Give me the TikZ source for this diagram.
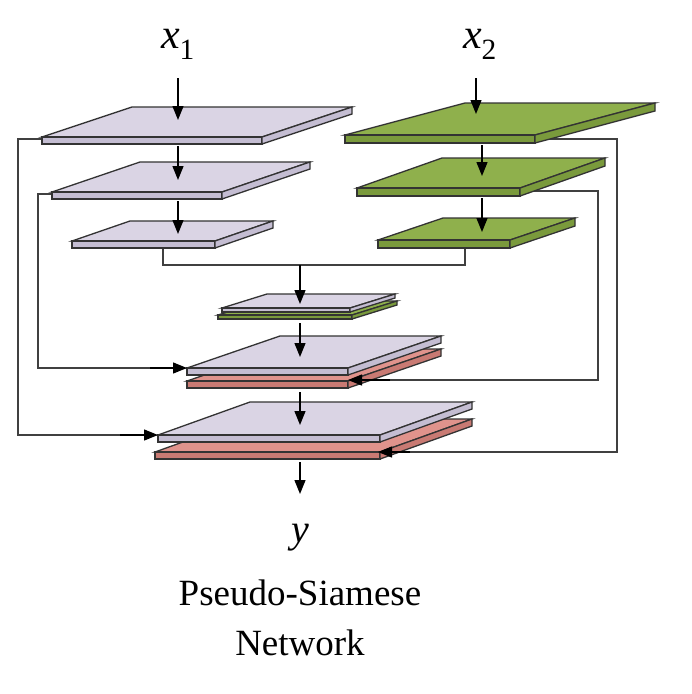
\documentclass[tikz,border=0pt]{standalone}
\usepackage{fontspec}
\setmainfont{Liberation Serif}
\usetikzlibrary{arrows.meta}
\definecolor{pu}{HTML}{DAD4E4}
\definecolor{puS}{HTML}{C4BDD2}
\definecolor{gr}{HTML}{8FB04C}
\definecolor{grS}{HTML}{7A9A3C}
\definecolor{rd}{HTML}{E0938C}
\definecolor{rdS}{HTML}{C97A73}
% \myplate{x0}{y0}{w}{d}{h}{t}{fill}{side}
\newcommand\myplate[8]{%
  \fill[#7,draw=black!80,line width=1.3pt] (#1,#2) -- ++(#3,0) -- ++(#4,-#5) -- ++(-#3,0) -- cycle;
  \fill[#8,draw=black!80,line width=1.3pt] (#1,#2) -- ++(#3,0) -- ++(0,#6) -- ++(-#3,0) -- cycle;
  \fill[#8,draw=black!80,line width=1.3pt] (#1+#3,#2) -- ++(#4,-#5) -- ++(0,#6) -- ++(-#4,#5) -- cycle;
}
\tikzset{ar/.style={-{Triangle[length=14pt,width=11pt]},line width=1.3pt},
  ln/.style={line width=1.3pt,black!75}}
\begin{document}
\begin{tikzpicture}[x=1pt,y=-1pt]
\useasboundingbox (0,0) rectangle (692,694);
\fill[white] (0,0) rectangle (692,694);
% skip lines (behind)
\draw[ln] (42,139) -- (18,139) -- (18,435) -- (150,435);
\draw[ln] (52,194) -- (38,194) -- (38,368) -- (180,368);
\draw[ln] (520,191) -- (598,191) -- (598,380) -- (356,380);
\draw[ln] (535,139) -- (617,139) -- (617,452) -- (386,452);
\draw[ln] (163,248) -- (163,265) -- (465,265) -- (465,248);
% left column
\myplate{42}{137}{220}{90}{30}{7}{pu}{puS}
\myplate{52}{192}{170}{88}{30}{7}{pu}{puS}
\myplate{72}{241}{143}{58}{20}{7}{pu}{puS}
% right column
\myplate{345}{135}{190}{120}{32}{8}{gr}{grS}
\myplate{357}{188}{163}{85}{30}{8}{gr}{grS}
\myplate{378}{240}{132}{65}{22}{8}{gr}{grS}
% middle small
\myplate{218}{315}{134}{45}{14}{4}{gr}{grS}
\myplate{222}{308}{128}{45}{14}{4}{pu}{puS}
% mid stack
\myplate{187}{381}{161}{93}{32}{7}{rd}{rdS}
\myplate{187}{368}{161}{93}{32}{7}{pu}{puS}
% bottom stack
\myplate{155}{452}{225}{92}{33}{7}{rd}{rdS}
\myplate{158}{435}{222}{92}{33}{7}{pu}{puS}
% arrows
\draw[ar] (178,78) -- (178,120);
\draw[ar] (178,146) -- (178,180);
\draw[ar] (178,201) -- (178,234);
\draw[ar] (476,78) -- (476,114);
\draw[ar] (482,145) -- (482,176);
\draw[ar] (482,198) -- (482,232);
\draw[ar] (300,265) -- (300,304);
\draw[ar] (300,323) -- (300,357);
\draw[ar] (300,392) -- (300,425);
\draw[ar] (300,462) -- (300,494);
\draw[ar] (120,435) -- (158,435);
\draw[ar] (150,368) -- (187,368);
\draw[ar] (390,380) -- (348,380);
\draw[ar] (410,452) -- (378,452);
% labels
\node[font=\fontsize{42}{42}\selectfont] at (178,44) {\textit{x}\textsubscript{1}};
\node[font=\fontsize{42}{42}\selectfont] at (480,44) {\textit{x}\textsubscript{2}};
\node[font=\fontsize{40}{40}\selectfont] at (300,538) {\textit{y}};
\node[font=\fontsize{37}{37}\selectfont] at (300,593) {Pseudo-Siamese};
\node[font=\fontsize{37}{37}\selectfont] at (300,643) {Network};
\end{tikzpicture}
\end{document}
